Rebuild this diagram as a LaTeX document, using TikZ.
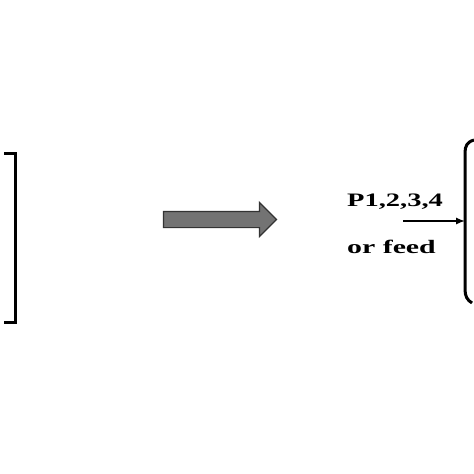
\documentclass[tikz,border=0pt]{standalone}
\usepackage{fontspec}
\setmainfont{Liberation Serif}
\usepackage{tikz}
\usetikzlibrary{shapes.arrows}
\usetikzlibrary{arrows}

\begin{document}
\begin{tikzpicture}[x=1pt,y=-1pt]
  \tikzset{LBL/.style={inner sep=0pt, anchor=base west, font=\bfseries\fontsize{19}{21}\selectfont} }
  \tikzset{BRK/.style={line width=3pt, line cap=butt, line join=miter} }

  \useasboundingbox (0,0) rectangle (474,474);

  % left bracket
  \draw[BRK] (4,153) -- (15,153) -- (15,322) -- (4,322);

  % big gray arrow
  \node (big) at (216,219.5) [single arrow, draw=black!80, line width=1.2pt, fill=black!55,
    minimum height=113pt, inner xsep=0pt, inner ysep=7.5pt, single arrow head extend=9pt]{};

  % labels
  \node[LBL] (p) at (347,206) {\scalebox{1.5}[1]{P1,2,3,4}};
  \node[LBL] (f) at (347,253) {\scalebox{1.57}[1]{or feed}};

  % right bracket
  \coordinate (b0) at (465,221);
  \draw[BRK] (474,140) .. controls (467,142) and (465,146) .. (465,153)
    -- (465,289) .. controls (465,296) and (467,300) .. (472,303);

  \coordinate (a0) at (403,221);
  \draw[->,>=latex,line width=2pt] (a0) -- (b0);
\end{tikzpicture}
\end{document}
